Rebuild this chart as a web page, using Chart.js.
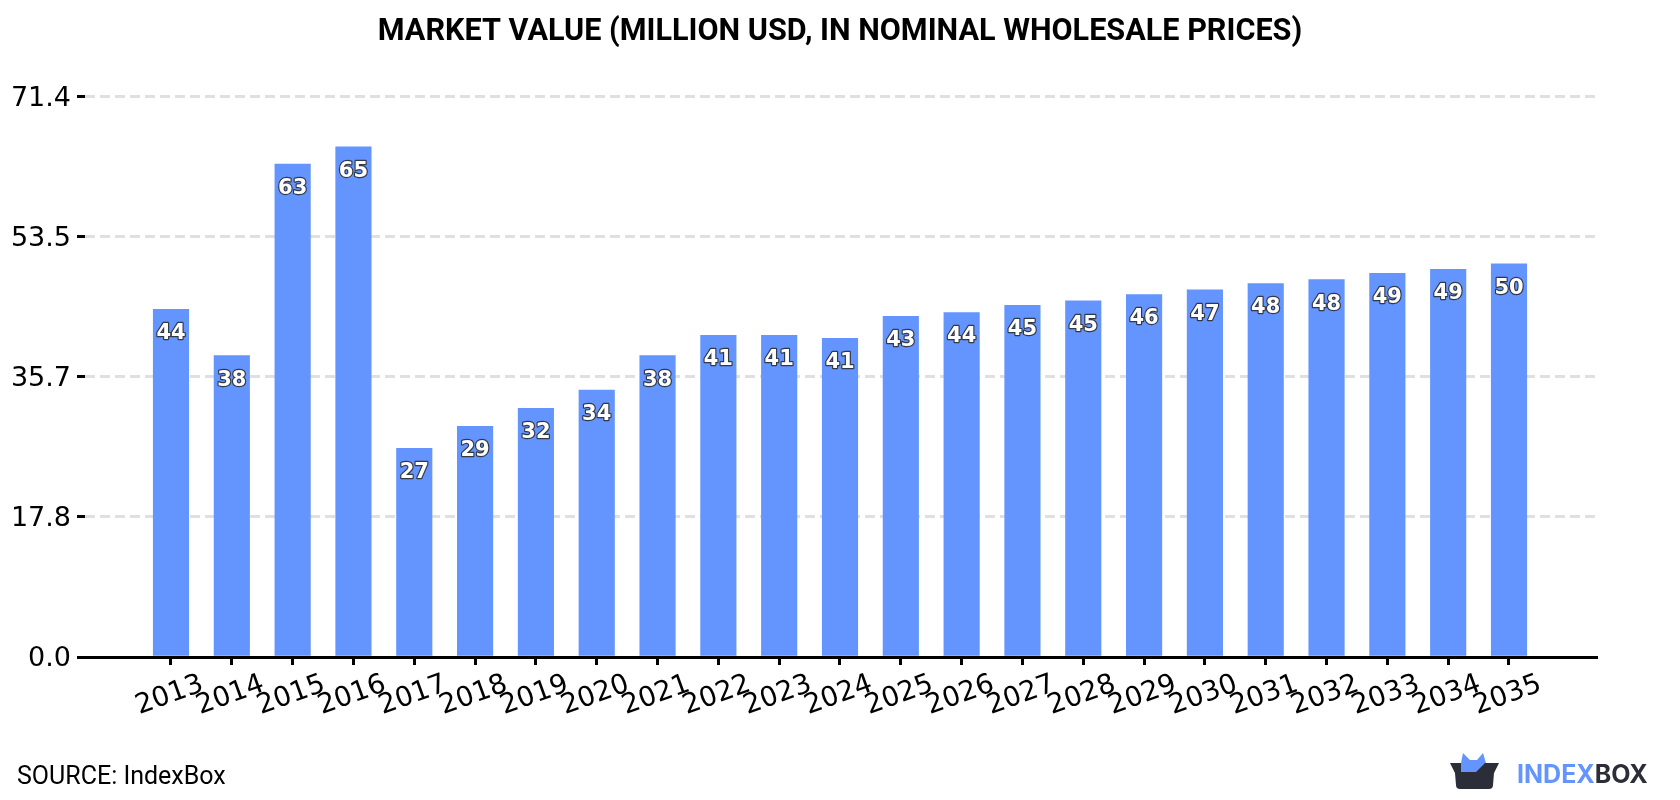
<!DOCTYPE html>
<html>
<head>
<meta charset="utf-8">
<style>
  html, body { margin: 0; padding: 0; background: #fff; }
  #wrap { position: relative; width: 1680px; height: 800px; overflow: hidden; }
  canvas { position: absolute; left: 0; top: 0; }
  #source { position: absolute; left: 17px; top: 762px; font: 400 25px Roboto, sans-serif; color: #000; line-height: 28px; }
  #brand { position: absolute; left: 1517px; top: 759px; font: 700 25px Inter, Roboto, sans-serif; line-height: 30px; color: #2b2d38; }
  #brand span { color: #6495ff; }
  #mark { position: absolute; left: 1450px; top: 752px; }
</style>
</head>
<body>
<div id="wrap">
  <canvas id="chart" width="1680" height="800"></canvas>
  <div id="source">SOURCE: IndexBox</div>
  <svg id="mark" width="50" height="38" viewBox="0 0 50 38">
    <path d="M11 11 L13 1 L20 8 L27 8 L33 1 L36 11 L27 20 L11 20 Z" fill="#6495ff"/>
    <path d="M0 11 L11 11 L11 20 L26 20 L35 11 L49 11 L44 21 L43 33 Q43 37 39 37 L10 37 Q6 37 6 33 L5 21 Z" fill="#2b2d38"/>
  </svg>
  <div id="brand"><span>INDEX</span>BOX</div>
</div>
<script src="https://cdn.jsdelivr.net/npm/chart.js@4/dist/chart.umd.min.js"></script>
<script>
const years = [2013, 2014, 2015, 2016, 2017, 2018, 2019, 2020, 2021, 2022, 2023, 2024,
               2025, 2026, 2027, 2028, 2029, 2030, 2031, 2032, 2033, 2034, 2035];
const marketValue = [44.3, 38.4, 62.8, 65.0, 26.6, 29.4, 31.7, 34.0, 38.4, 41.0, 41.0, 40.6,
                     43.4, 43.9, 44.8, 45.4, 46.2, 46.8, 47.6, 48.1, 48.9, 49.4, 50.1];
const yTickValues = [0, 17.85, 35.7, 53.55, 71.4];
const yTickLabels = ['0.0', '17.8', '35.7', '53.5', '71.4'];
const chartTitle = 'MARKET VALUE (MILLION USD, IN NOMINAL WHOLESALE PRICES)';

// Writes each rounded value inside the top of its bar, white with a dark outline.
const barValueLabels = {
  id: 'barValueLabels',
  afterDatasetsDraw(chart) {
    const { ctx } = chart;
    const bars = chart.getDatasetMeta(0).data;
    ctx.save();
    ctx.font = 'bold 21px "DejaVu Sans"';
    ctx.textAlign = 'center';
    ctx.textBaseline = 'middle';
    ctx.lineJoin = 'round';
    bars.forEach((bar, i) => {
      const text = String(Math.round(marketValue[i]));
      ctx.lineWidth = 2.4;
      ctx.strokeStyle = '#333845';
      ctx.strokeText(text, bar.x, bar.y + 24.5);
      ctx.fillStyle = '#ffffff';
      ctx.fillText(text, bar.x, bar.y + 24.5);
    });
    ctx.restore();
  }
};

new Chart(document.getElementById('chart'), {
  type: 'bar',
  data: {
    datasets: [{
      data: years.map((year, i) => ({ x: year, y: marketValue[i] })),
      backgroundColor: '#6495ff',
      barThickness: 35.5
    }]
  },
  options: {
    responsive: false,
    animation: false,
    plugins: {
      legend: { display: false },
      tooltip: { enabled: false },
      title: {
        display: true,
        text: chartTitle,
        color: '#000',
        font: { family: 'Roboto', size: 30.6, weight: '700' },
        padding: { top: 14, bottom: 46 }
      }
    },
    scales: {
      x: {
        type: 'linear',
        offset: false,
        min: 2011.586,
        max: 2036.447,
        afterFit(scale) { scale.height = 143; },
        afterBuildTicks(scale) { scale.ticks = years.map(v => ({ value: v })); },
        grid: { offset: false, drawOnChartArea: false, drawTicks: true, tickLength: 8, tickColor: '#000', tickWidth: 3 },
        border: { display: true, color: '#000', width: 3 },
        ticks: {
          autoSkip: false,
          minRotation: 20,
          maxRotation: 20,
          labelOffset: 31.5,
          padding: 3,
          color: '#000',
          font: { family: '"DejaVu Sans"', size: 27.5 },
          callback: v => String(v)
        }
      },
      y: {
        min: 0,
        max: 71.4,
        afterFit(scale) { scale.width = 85; },
        afterBuildTicks(scale) { scale.ticks = yTickValues.map(v => ({ value: v })); },
        grid: {
          color: '#e0e0e0',
          lineWidth: 3,
          tickColor: '#000',
          tickLength: 8,
          tickWidth: 3,
          tickBorderDash: []
        },
        border: { display: false, dash: [10, 5] },
        ticks: {
          padding: 6,
          labelOffset: 2,
          color: '#000',
          font: { family: '"DejaVu Sans"', size: 27 },
          callback: (v, i) => yTickLabels[i]
        }
      },
      // Empty right-hand gutter, so the title stays centred on the whole canvas.
      gutter: {
        type: 'linear',
        position: 'right',
        afterFit(scale) { scale.width = 83; },
        grid: { display: false },
        border: { display: false },
        ticks: { display: false }
      }
    }
  },
  plugins: [barValueLabels]
});
</script>
</body>
</html>
